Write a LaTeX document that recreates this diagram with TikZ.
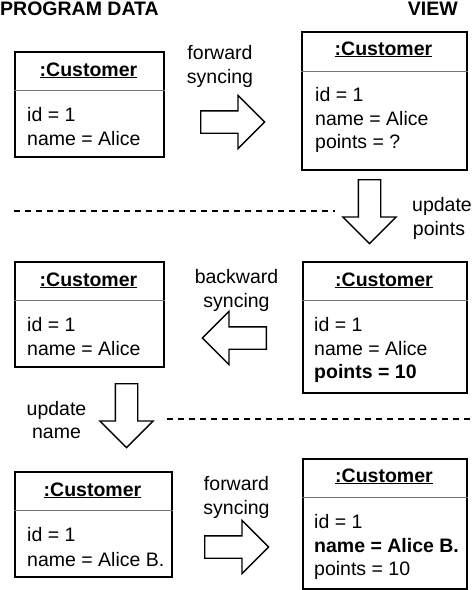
\documentclass[tikz,border=0pt]{standalone}
\usepackage{fontspec}
\setmainfont{Liberation Sans}
\usetikzlibrary{shapes.arrows}

\tikzset{
  objbox/.style={draw, line width=1.5pt, anchor=north west, inner sep=0pt},
  divline/.style={line width=1pt, black!55},
  objtitle/.style={anchor=base, inner sep=0pt, font=\bfseries\fontsize{19.5}{23.5}\selectfont},
  attr/.style={anchor=base west, inner sep=0pt, font=\fontsize{19.5}{23.5}\selectfont},
  steplabel/.style={anchor=base, inner sep=0pt, font=\fontsize{19.5}{23.5}\selectfont},
  header/.style={inner sep=0pt, font=\bfseries\fontsize{19.5}{23.5}\selectfont},
  syncarrow/.style={single arrow, draw, line width=1.3pt, inner sep=10.5pt,
    minimum height=64pt, single arrow head extend=15.5pt, anchor=tail},
  sepline/.style={line width=1.2pt, dash pattern=on 6pt off 5pt}
}

\begin{document}
\begin{tikzpicture}[x=1pt, y=-1pt]
    \useasboundingbox (0,0) rectangle (474,590);

    % Column headers
    \node[header, anchor=base west] (pdhead) at (0,15) {PROGRAM DATA};
    \node[header, anchor=base east] (vwhead) at (458,15) {VIEW};

    % Step 1: program data -> view
    \node[objbox, minimum width=149pt, minimum height=105pt] (pd1) at (14,51) {};
    \draw[divline] ([yshift=-39pt]pd1.north west) -- ([yshift=-39pt]pd1.north east);
    \node[objtitle] (pd1t) at (88.5,76) {\underline{:Customer}};
    \node[attr] (pd1a) at (27,121) {id = 1};
    \node[attr] (pd1b) at (27,145) {name = Alice};

    \node[objbox, minimum width=165pt, minimum height=138pt] (vw1) at (301,31) {};
    \draw[divline] ([yshift=-40pt]vw1.north west) -- ([yshift=-40pt]vw1.north east);
    \node[objtitle] (vw1t) at (383.5,55) {\underline{:Customer}};
    \node[attr] (vw1a) at (315,101) {id = 1};
    \node[attr] (vw1b) at (315,125) {name = Alice};
    \node[attr] (vw1c) at (315,148) {points = ?};

    \node[syncarrow] (fwd1) at (200,122) {};
    \node[steplabel] (fwd1l) at (220,59) {forward};
    \node[steplabel] (fwd1m) at (220,83) {syncing};

    % Separator and view update
    \coordinate (sep1a) at (14,211);
    \coordinate (sep1b) at (335,211);
    \draw[sepline] (sep1a) -- (sep1b);
    \node[syncarrow, shape border rotate=270] (upd1) at (369.5,179) {};
    \node[steplabel] (upd1l) at (442,211) {update};
    \node[steplabel] (upd1m) at (439,235) {points};

    % Step 2: view -> program data
    \node[objbox, minimum width=149pt, minimum height=105pt] (pd2) at (14,261) {};
    \draw[divline] ([yshift=-39pt]pd2.north west) -- ([yshift=-39pt]pd2.north east);
    \node[objtitle] (pd2t) at (88.5,286) {\underline{:Customer}};
    \node[attr] (pd2a) at (27,331) {id = 1};
    \node[attr] (pd2b) at (27,355) {name = Alice};

    \node[objbox, minimum width=164pt, minimum height=131pt] (vw2) at (302,261) {};
    \draw[divline] ([yshift=-39pt]vw2.north west) -- ([yshift=-39pt]vw2.north east);
    \node[objtitle] (vw2t) at (384,286) {\underline{:Customer}};
    \node[attr] (vw2a) at (314,331) {id = 1};
    \node[attr] (vw2b) at (314,355) {name = Alice};
    \node[attr, font=\bfseries\fontsize{19.5}{23.5}\selectfont] (vw2c) at (314,378) {points = 10};

    \node[syncarrow, shape border rotate=180] (bwd2) at (267,338) {};
    \node[steplabel] (bwd2l) at (236.5,283) {backward};
    \node[steplabel] (bwd2m) at (236.5,307) {syncing};

    % Separator and program data update
    \coordinate (sep2a) at (167,419);
    \coordinate (sep2b) at (474,419);
    \draw[sepline] (sep2a) -- (sep2b);
    \node[syncarrow, shape border rotate=270] (upd2) at (126.5,383) {};
    \node[steplabel] (upd2l) at (56.5,415) {update};
    \node[steplabel] (upd2m) at (56.5,438) {name};

    % Step 3: program data -> view
    \node[objbox, minimum width=157pt, minimum height=105pt] (pd3) at (14,471) {};
    \draw[divline] ([yshift=-39pt]pd3.north west) -- ([yshift=-39pt]pd3.north east);
    \node[objtitle] (pd3t) at (92.5,496) {\underline{:Customer}};
    \node[attr] (pd3a) at (27,541) {id = 1};
    \node[attr] (pd3b) at (27,566) {name = Alice B.};

    \node[objbox, minimum width=164pt, minimum height=130pt] (vw3) at (302,458) {};
    \draw[divline] ([yshift=-39pt]vw3.north west) -- ([yshift=-39pt]vw3.north east);
    \node[objtitle] (vw3t) at (384,482) {\underline{:Customer}};
    \node[attr] (vw3a) at (314,528) {id = 1};
    \node[attr, font=\bfseries\fontsize{19.5}{23.5}\selectfont] (vw3b) at (314,552) {name = Alice B.};
    \node[attr] (vw3c) at (314,575) {points = 10};

    \node[syncarrow] (fwd3) at (204,547) {};
    \node[steplabel] (fwd3l) at (236.5,490) {forward};
    \node[steplabel] (fwd3m) at (236.5,514) {syncing};
\end{tikzpicture}
\end{document}
